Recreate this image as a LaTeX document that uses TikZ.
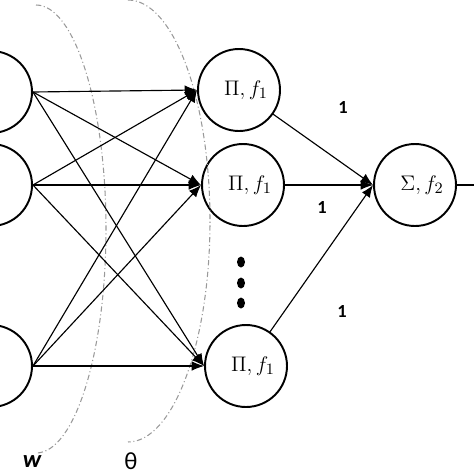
\documentclass[tikz,border=0pt]{standalone}
\usepackage{fontspec}
\usepackage{tikz}
\usetikzlibrary{arrows.meta}
\newfontfamily\labelfont{Carlito}
\definecolor{arcgray}{gray}{0.6}
\tikzset{
  neuron/.style={
    circle, draw, line width=1.1pt, minimum size=1.64cm, inner sep=0pt,
    font=\fontsize{12.5}{15}\selectfont, execute at begin node={\hspace{8pt}}
  },
  link/.style={-{Latex[length=7pt, width=5.5pt]}, line width=0.65pt},
  weight/.style={font=\labelfont\bfseries\fontsize{10.5}{12}\selectfont},
  boundary/.style={draw=arcgray, line width=0.6pt,
    dash pattern=on 3pt off 1.5pt on 0.6pt off 1.5pt},
  boundlbl/.style={font=\labelfont\fontsize{14}{16}\selectfont}
}

\begin{document}
\begin{tikzpicture}[x=0.02cm, y=-0.02cm]
  \useasboundingbox (0,0) rectangle (474,474);

  % input layer (cut at the left edge)
  \node[neuron] (in1) at (-9,92) {};
  \node[neuron] (in2) at (-9,185) {};
  \node[neuron] (in3) at (-9,366) {};

  % product layer
  \node[neuron] (pf1) at (239,90) {$\Pi, f_1$};
  \node[neuron] (pf2) at (243,185) {$\Pi, f_1$};
  \node[neuron] (pf3) at (246,366) {$\Pi, f_1$};
  \foreach \y in {262,283,303}
    \fill (241,\y) ellipse [x radius=4, y radius=5.5];

  % summing node
  \node[neuron] (sum) at (415,185) {$\Sigma, f_2$};
  \coordinate (out) at (490,185);

  % boundaries
  \draw[boundary] (36,5) arc[start angle=-90, end angle=90, x radius=70, y radius=224];
  \draw[boundary] (128,0) arc[start angle=-90, end angle=90, x radius=82, y radius=221];
  \node[boundlbl] (wlbl) at (32,462) {\bfseries\itshape w};
  \node[boundlbl] (tlbl) at (131,461) {θ};

  % connections
  \foreach \i in {1,2,3}
    \foreach \j in {1,2,3}
      \draw[link] (in\i.east) -- (pf\j.west);
  \draw[link] (pf1) -- (sum.west);
  \draw[link] (pf2) -- (sum.west);
  \draw[link] (pf3) -- (sum.west);
  \draw[line width=0.8pt] (sum) -- (out);

  \node[weight] (w1) at (343,108) {1};
  \node[weight] (w2) at (322,208) {1};
  \node[weight] (w3) at (342,312) {1};
\end{tikzpicture}
\end{document}
